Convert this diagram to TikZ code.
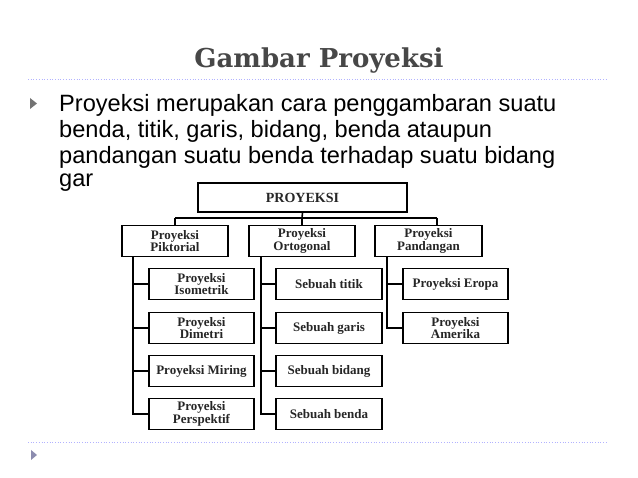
\documentclass[tikz,border=0pt]{standalone}
\usepackage{fontspec}
\setmainfont{Liberation Serif}
\setsansfont{Liberation Sans}
\newfontfamily\slab{DejaVu Serif}
\begin{document}
\begin{tikzpicture}[x=1pt,y=-1pt,
  bx/.style={draw,line width=1.6pt,fill=white,minimum height=31pt,align=center,inner sep=1pt,font=\bfseries\fontsize{13}{10}\selectfont,text=black!85},
  ln/.style={line width=1.6pt},
  body/.style={anchor=west,font=\sffamily\fontsize{23.6}{23.6}\selectfont,inner sep=0}]
\useasboundingbox (0,0) rectangle (638,478);
\fill[white] (0,0) rectangle (638,478);
\node[font=\slab\bfseries\fontsize{26}{26}\selectfont,text=black!72] (title) at (319,61) {Gambar Proyeksi};
\draw[dotted,line width=0.7pt,blue!30] (28,79) -- (606,79);
\draw[dotted,line width=0.7pt,blue!30] (28,442) -- (606,442);
\fill[black!55] (30,98) -- (37,103.5) -- (30,109) -- cycle;
\fill[blue!30!black!45] (31,450) -- (37,455) -- (31,460) -- cycle;
\node[body] (l1) at (59,105) {Proyeksi merupakan cara penggambaran suatu};
\node[body] (l2) at (59,131) {benda, titik, garis, bidang, benda ataupun};
\node[body] (l3) at (59,157) {pandangan suatu benda terhadap suatu bidang};
\node[body] (l4) at (59,183) {gar};
% tree
\node[bx,minimum width=209pt,minimum height=29pt,font=\bfseries\fontsize{14}{14}\selectfont] (root) at (302.5,197.5) {PROYEKSI};
\node[bx,minimum width=106pt] (pik) at (175,241) {Proyeksi\\Piktorial};
\node[bx,minimum width=106pt] (ort) at (302,241) {Proyeksi\\Ortogonal};
\node[bx,minimum width=107pt] (pan) at (428.5,241) {Proyeksi\\Pandangan};
\coordinate (hl) at (175,218);
\coordinate (hr) at (437,218);
\draw[ln] (root.south) -- (302,218);
\draw[ln] (hl) -- (hr);
\draw[ln] (hl) -- (pik.north);
\draw[ln] (302,218) -- (ort.north);
\draw[ln] (hr) -- (437,225);
\foreach \n/\t/\y in {a/{Proyeksi\\Isometrik}/284,b/{Proyeksi\\Dimetri}/328,c/{Proyeksi Miring}/371,d/{Proyeksi\\Perspektif}/414}
  \node[bx,minimum width=105pt] (p\n) at (201.5,\y) {\t};
\foreach \n/\t/\y in {a/{Sebuah titik}/284,b/{Sebuah garis}/328,c/{Sebuah bidang}/371,d/{Sebuah benda}/414}
  \node[bx,minimum width=106pt] (o\n) at (329,\y) {\t};
\foreach \n/\t/\y in {a/{Proyeksi Eropa}/284,b/{Proyeksi\\Amerika}/328}
  \node[bx,minimum width=105pt] (e\n) at (455.5,\y) {\t};
\draw[ln] (133,257) |- (pd.west);
\foreach \n in {a,b,c} \draw[ln] (133,0 |- p\n.west) -- (p\n.west);
\draw[ln] (261,257) |- (od.west);
\foreach \n in {a,b,c} \draw[ln] (261,0 |- o\n.west) -- (o\n.west);
\draw[ln] (387,257) |- (eb.west);
\draw[ln] (387,0 |- ea.west) -- (ea.west);
\end{tikzpicture}
\end{document}
